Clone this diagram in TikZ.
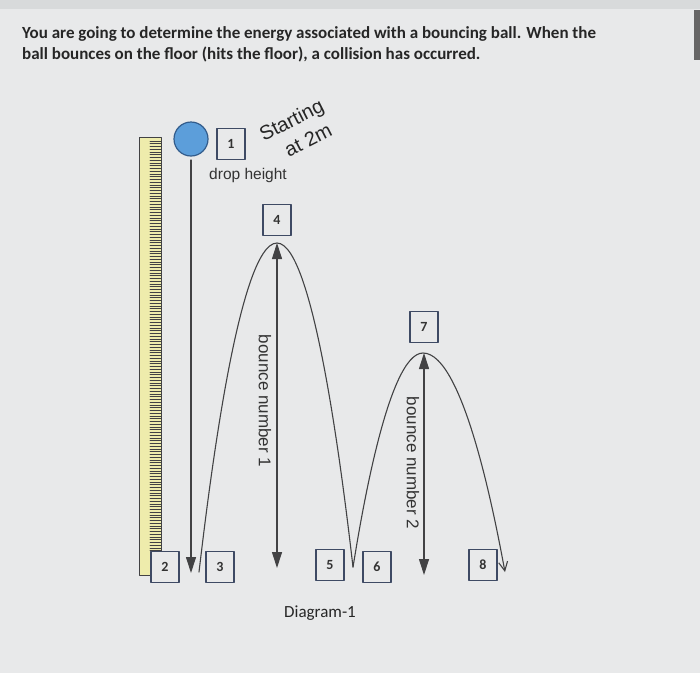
\documentclass[tikz,border=0pt]{standalone}
\usepackage{fontspec}
\setmainfont{Carlito}
\newfontfamily\arialfont{Liberation Sans}
\usetikzlibrary{arrows.meta,calc}
\definecolor{bgpage}{RGB}{232,233,234}
\definecolor{bgtop}{RGB}{216,218,219}
\definecolor{boxline}{RGB}{62,74,100}
\definecolor{ballblue}{RGB}{92,158,218}
\definecolor{balledge}{RGB}{50,92,140}
\definecolor{ruleryellow}{RGB}{238,236,172}
\definecolor{inkgray}{RGB}{66,66,68}

\begin{document}
\begin{tikzpicture}[x=1pt, y=-1pt, line join=round, line cap=round,
	numbox/.style={draw=boxline, line width=1.6pt, fill=bgpage, minimum width=28pt, minimum height=31pt, inner sep=0pt, font=\bfseries\fontsize{14}{14}\selectfont, text=black!80},
	traj/.style={draw=inkgray, line width=1.1pt},
	fall/.style={traj, -{Triangle[length=16pt,width=10pt]}},
	rise/.style={traj, {Triangle[length=16pt,width=10pt]}-{Triangle[length=16pt,width=10pt]}},
	lbl/.style={font=\arialfont\fontsize{15.5}{15.5}\selectfont, text=black!80, inner sep=0pt},
	headline/.style={anchor=base west, inner sep=0pt, font=\bfseries\fontsize{17}{17}\selectfont, text=black!85}]
	\useasboundingbox (0,0) rectangle (700,673);
	\fill[bgpage] (0,0) rectangle (700,673);
	\fill[bgtop] (0,0) rectangle (700,9);
	\fill[black!60] (694,10) rectangle (700,60);
	% heading
	\node[headline] (head1) at (22,38) {You are going to determine the energy associated with a bouncing ball. When the};
	\node[headline] (head2) at (22,59) {ball bounces on the floor (hits the floor), a collision has occurred.};
	% ruler
	\draw[fill=ruleryellow, draw=inkgray, line width=0.8pt] (139,137) rectangle (161,575);
	\foreach \t in {141,143.75,...,553} \draw[inkgray, line width=0.6pt] (150,\t)--(161,\t);
	% points of the path
	\coordinate (dropTop) at (191,160);
	\coordinate (dropEnd) at (191,573);
	\coordinate (hitA) at (199,572);
	\coordinate (topA) at (277,243);
	\coordinate (hitB) at (353,567);
	\coordinate (topB) at (423,353);
	\coordinate (endB) at (505,572);
	\coordinate (lowA) at (277,568);
	\coordinate (lowB) at (424,575);
	% ball
	\node[circle, draw=balledge, fill=ballblue, line width=1.2pt, minimum size=34pt, inner sep=0pt] (ball) at (191,139) {};
	\draw[fall] (dropTop)--(dropEnd);
	\draw[traj] (hitA) parabola bend (topA) (hitB);
	\draw[traj, -{Straight Barb[length=9pt,width=9pt]}] (hitB) parabola bend (topB) (endB);
	\draw[rise] (topA)--(lowA);
	\draw[rise] ($(topB)+(1,0)$)--(lowB);
	% labels
	\node[numbox] (n1) at (231,144) {1};
	\node[numbox] (n2) at (165,567) {2};
	\node[numbox] (n3) at (220,567) {3};
	\node[numbox] (n4) at (277,220) {4};
	\node[numbox] (n5) at (330,565) {5};
	\node[numbox] (n6) at (377,567) {6};
	\node[numbox] (n7) at (424,327) {7};
	\node[numbox] (n8) at (483,565) {8};
	\node[lbl] (drop) at (248,175) {drop height};
	\node[lbl, font=\arialfont\fontsize{17}{17}\selectfont, rotate=-90] (bnc1) at (265,401) {bounce number 1};
	\node[lbl, font=\arialfont\fontsize{17}{17}\selectfont, rotate=-90] (bnc2) at (413,463) {bounce number 2};
	\node[font=\arialfont\fontsize{20}{25}\selectfont, text=black!85, rotate=27, inner sep=0pt, align=center] (start) at (297,131) {Starting\\\hspace*{12pt}at 2m};
	\node[font=\fontsize{17}{17}\selectfont, text=black!85, inner sep=0pt] (cap) at (320,613) {Diagram-1};
\end{tikzpicture}
\end{document}
